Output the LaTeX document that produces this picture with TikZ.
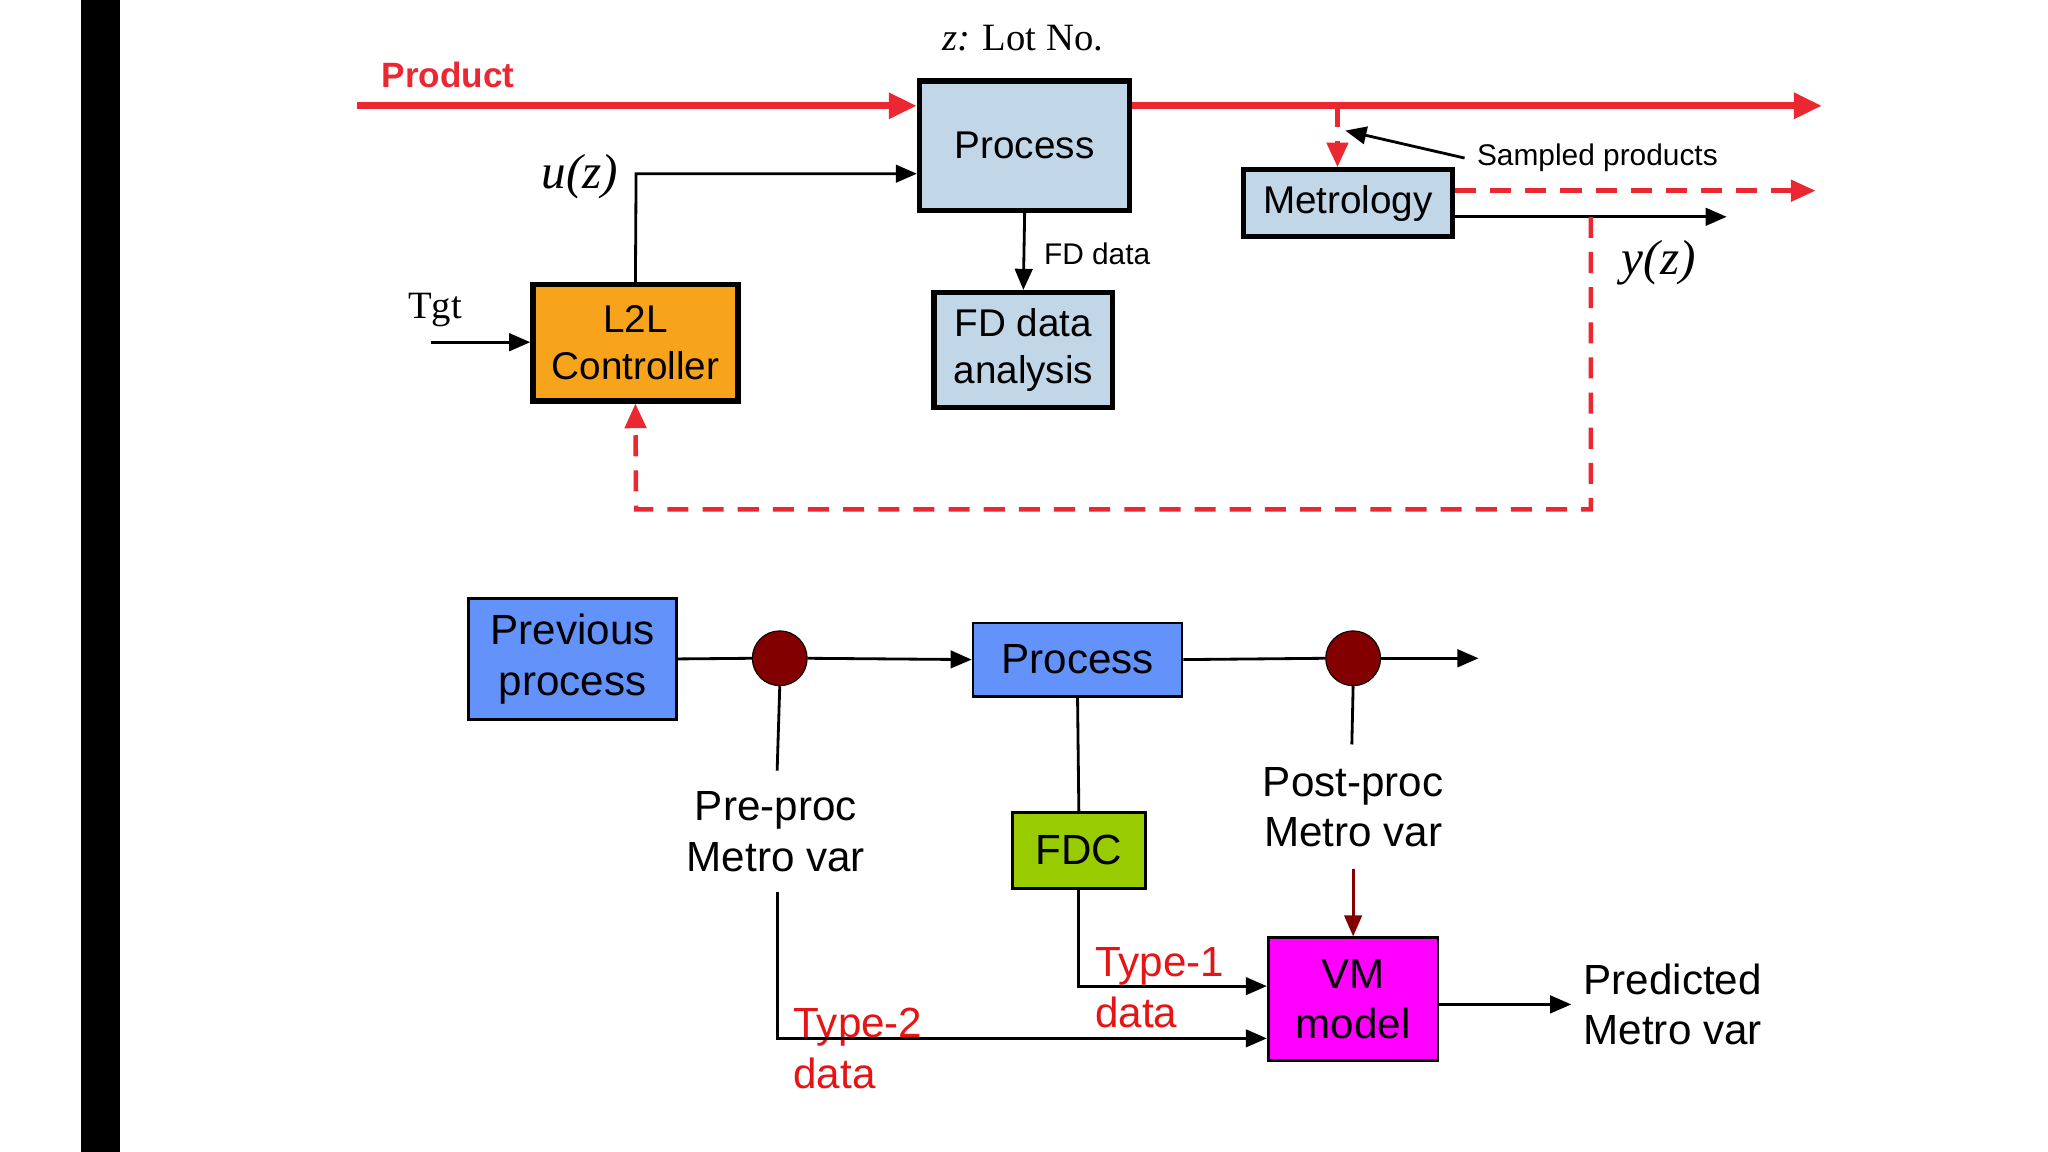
\documentclass[tikz,border=0pt]{standalone}
\usepackage{fontspec}
\setmainfont{Liberation Sans}
\newfontfamily\serf{Liberation Serif}
\usetikzlibrary{arrows.meta}
\definecolor{pblue}{RGB}{193,214,230}
\definecolor{porange}{RGB}{247,163,28}
\definecolor{bblue}{RGB}{98,146,250}
\definecolor{fgreen}{RGB}{153,204,0}
\definecolor{vmag}{RGB}{255,0,255}
\definecolor{rline}{RGB}{235,40,50}
\definecolor{dred}{RGB}{130,0,0}
\definecolor{tred}{RGB}{230,20,20}
\begin{document}
\begin{tikzpicture}[x=0.01306cm,y=-0.01306cm,
  box/.style={draw,line width=1.5pt,align=center,inner sep=0pt,font=\fontsize{11}{13.5}\selectfont},
  sbox/.style={draw,line width=0.8pt,align=center,inner sep=0pt,font=\fontsize{12}{14.5}\selectfont},
  arr/.style={-{Triangle[length=6pt,width=5pt]},line width=0.8pt},
  red arr/.style={-{Triangle[length=8pt,width=7pt]},rline,line width=2pt},
  red dash/.style={-{Triangle[length=7pt,width=6pt]},rline,line width=1.3pt,dash pattern=on 6pt off 4pt},
  lbl/.style={font=\fontsize{12}{14.5}\selectfont,align=center},
  rlbl/.style={font=\fontsize{12}{14.5}\selectfont,align=left,text=tred}]
\useasboundingbox (0,0) rectangle (1568,882);
\fill[white] (0,0) rectangle (1568,882);
\fill[black] (62,0) rectangle (92,882);
% top
\node[box,fill=pblue,minimum width=161*0.01306cm,minimum height=99*0.01306cm] (proc) at (784.5,111.5) {Process};
\node[box,fill=porange,minimum width=157*0.01306cm,minimum height=89*0.01306cm] (l2l) at (486.5,262.5) {L2L\\Controller};
\node[box,fill=pblue,minimum width=137*0.01306cm,minimum height=88*0.01306cm] (fda) at (783.5,268) {FD data\\analysis};
\node[box,fill=pblue,minimum width=160*0.01306cm,minimum height=51*0.01306cm] (met) at (1032,155.5) {Metrology};
\node[font=\bfseries\fontsize{10}{12}\selectfont,text=rline] (prodl) at (343,57) {Product};
\node[font=\fontsize{11}{13}\selectfont\serf] (lot) at (783,29) {\textit{z:} Lot No.};
\node[font=\fontsize{14}{16}\selectfont\serf\itshape] (uz) at (444,135) {u(z)};
\node[font=\fontsize{11}{13}\selectfont\serf] (tgt) at (333,237) {Tgt};
\node[font=\fontsize{8.5}{10}\selectfont] (fdl) at (840,194) {FD data};
\node[font=\fontsize{8.5}{10}\selectfont] (samp) at (1223,121) {Sampled products};
\node[font=\fontsize{14}{16}\selectfont\serf\itshape] (yz) at (1270,201) {y(z)};
\coordinate (pstart) at (273,81);
\coordinate (pend) at (1395,81);
\coordinate (tin) at (330,262);
\coordinate (uc) at (487,133);
\coordinate (sp) at (1024,81);
\coordinate (dend) at (1390,146);
\coordinate (yend) at (1322,166);
\coordinate (fb) at (1218,166);
\coordinate (fb2) at (1218,390);
\coordinate (fb3) at (487,390);
\draw[red arr] (pstart) -- (proc.west|-pstart);
\draw[red arr] (proc.east|-pstart) -- (pend);
\draw[arr] (l2l.north) -- (uc) -- (proc.west|-uc);
\draw[arr] (tin) -- (l2l.west|-tin);
\draw[arr] (proc.south) -- (fda.north);
\draw[red dash] (sp) -- (sp|-met.north);
\draw[arr] (samp.west) -- (1030,100);
\draw[red dash] (met.east|-dend) -- (dend);
\draw[arr] (met.east|-yend) -- (yend);
\draw[red dash] (fb) -- (fb2) -- (fb3) -- (l2l.south);
% bottom
\node[sbox,fill=bblue,minimum width=159*0.01306cm,minimum height=93*0.01306cm] (prev) at (438.5,504.5) {Previous\\process};
\node[sbox,fill=bblue,minimum width=160*0.01306cm,minimum height=56*0.01306cm] (proc2) at (825,505) {Process};
\node[sbox,fill=fgreen,minimum width=102*0.01306cm,minimum height=58*0.01306cm] (fdc) at (826,651) {FDC};
\node[sbox,fill=vmag,minimum width=130*0.01306cm,minimum height=94*0.01306cm] (vm) at (1036,765) {VM\\model};
\node[circle,fill=dred,draw=black,line width=0.3pt,minimum size=42*0.01306cm,inner sep=0pt] (c1) at (597,504) {};
\node[circle,fill=dred,draw=black,line width=0.3pt,minimum size=42*0.01306cm,inner sep=0pt] (c2) at (1036,504) {};
\node[lbl] (pre) at (594,637) {Pre-proc\\Metro var};
\node[lbl] (post) at (1036,618) {Post-proc\\Metro var};
\node[lbl,align=left,anchor=west] (pred) at (1203,769) {Predicted\\Metro var};
\node[rlbl,anchor=north west] (t2) at (598,762) {Type-2\\data};
\node[rlbl,anchor=north west] (t1) at (829,716) {Type-1\\data};
\coordinate (oend) at (1132,504);
\coordinate (t2c) at (595,795);
\coordinate (t1c) at (826,755);
\draw[line width=0.8pt] (prev.east) -- (c1.west);
\draw[arr] (c1.east) -- (proc2.west);
\draw[line width=0.8pt] (proc2.east) -- (c2.west);
\draw[arr] (c2.east) -- (oend);
\draw[line width=0.8pt] (c1.south) -- (595,590);
\draw[arr] (595,683) -- (t2c) -- (vm.west|-t2c);
\draw[line width=0.8pt] (proc2.south) -- (fdc.north);
\draw[arr] (fdc.south) -- (t1c) -- (vm.west|-t1c);
\draw[line width=0.8pt] (c2.south) -- (1035,570);
\draw[arr,dred] (1036,665) -- (vm.north);
\draw[arr] (vm.east|-pred) -- (pred.west);
\end{tikzpicture}
\end{document}
